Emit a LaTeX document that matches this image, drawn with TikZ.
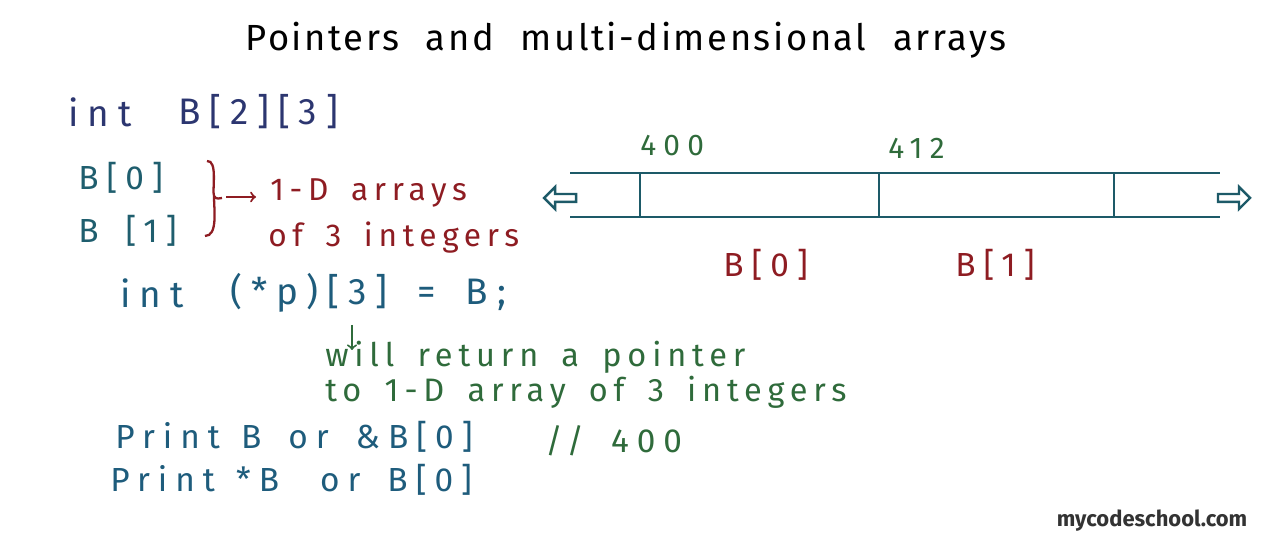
\documentclass[tikz,border=0pt]{standalone}
\usepackage{fontspec}
\setmainfont{Fira Sans}
\newfontfamily\hand[LetterSpace=24,WordSpace=1.6]{Fira Sans}
\newfontfamily\handN[LetterSpace=18,WordSpace=1.6]{Fira Sans}
\newfontfamily\titlefont[LetterSpace=7,WordSpace=2.2]{Fira Sans}
\usetikzlibrary{shapes.arrows}
\definecolor{cNavy}{HTML}{2C3670}
\definecolor{cTeal}{HTML}{1F5E6E}
\definecolor{cBlue}{HTML}{1E5C7C}
\definecolor{cRed}{HTML}{8E1C22}
\definecolor{cGreen}{HTML}{2F6B3B}
\definecolor{cLine}{HTML}{1D5A68}
\begin{document}
\begin{tikzpicture}[x=0.02cm,y=-0.02cm,
  txt/.style={inner sep=0pt, anchor=west, font=\hand\fontsize{19}{21}\selectfont},
  narrow/.style={txt, font=\handN\fontsize{18.5}{21}\selectfont},
  big/.style={txt, font=\hand\fontsize{21}{23}\selectfont},
  arr/.style={line width=1.6pt, color=cLine},
  hollow/.style={single arrow, draw=cLine, line width=1.4pt, fill=white,
    minimum height=32*0.02cm, minimum width=22*0.02cm, single arrow head extend=3pt,
    inner sep=1pt}]
\useasboundingbox[fill=white] (0,0) rectangle (1280,546);
% title
\node[inner sep=0pt, anchor=center, font=\titlefont\fontsize{20.7}{22}\selectfont, text=black] (title) at (626,40) {Pointers and multi-dimensional arrays};
% left column
\node[big, text=cNavy] (declInt) at (68,112) {int};
\node[big, text=cNavy] (declB) at (178,112) {B[2][3]};
\node[txt, text=cTeal] (b0) at (78,178) {B[0]};
\node[txt, text=cTeal] (b1) at (78,231) {B [1]};
\draw[cRed, line width=1.3pt] (207,161) .. controls (218,160) and (212,190) .. (214,196)
  .. controls (216,200) and (220,198) .. (222,198)
  (214,196) .. controls (214,210) and (218,236) .. (205,236);
\node[narrow, text=cRed, font=\handN\fontsize{18}{20}\selectfont] (oneD) at (270,193) {1-D arrays};
\node[narrow, text=cRed, font=\handN\fontsize{18}{20}\selectfont] (of3) at (268,238) {of 3 integers};
\draw[cRed, line width=1.2pt, ->] (226,197) -- (256,197);
\node[big, text=cBlue] (ptrInt) at (120,293) {int};
\node[big, text=cBlue] (ptr) at (230,293) {(*p)[3] = B;};
\node[narrow, text=cGreen] (will) at (325,357) {will return a pointer};
\node[narrow, text=cGreen] (to) at (325,392) {to 1-D array of 3 integers};
\draw[cGreen, line width=1.1pt, ->] (ptr.south -| 352,0) ++(0,12) -- (352,350);
\node[txt, text=cBlue] (pr1) at (115,437) {Print\hspace{12pt}B or \&B[0]};
\node[txt, text=cGreen] (c400) at (545,441) {// 400};
\node[txt, text=cBlue] (pr2) at (110,480) {Print\hspace{12pt}*B\hspace{8pt} or B[0]};
% array
\coordinate (tl) at (570,173); \coordinate (tr) at (1220,173);
\coordinate (bl) at (570,217); \coordinate (br) at (1220,217);
\draw[arr] (tl) -- (tr);
\draw[arr] (bl) -- (br);
\coordinate (v1t) at (640,173); \coordinate (v1b) at (640,217);
\coordinate (v2t) at (879,173); \coordinate (v2b) at (879,217);
\coordinate (v3t) at (1114,173); \coordinate (v3b) at (1114,217);
\draw[arr, line width=1.3pt] (v1t) -- (v1b);
\draw[arr, line width=1.3pt] (v2t) -- (v2b);
\draw[arr, line width=1.3pt] (v3t) -- (v3b);
\node[hollow, shape border rotate=180] (la) at (562,198) {};
\node[hollow] (ra) at (1232,198) {};
\node[txt, text=cGreen, font=\hand\fontsize{17}{19}\selectfont] (a400) at (640,146) {400};
\node[txt, text=cGreen, font=\hand\fontsize{17}{19}\selectfont] (a412) at (888,148) {412};
\node[txt, text=cRed] (lb0) at (723,265) {B[0]};
\node[txt, text=cRed] (lb1) at (955,265) {B[1]};
% watermark
\node[inner sep=0pt, anchor=center, font=\bfseries\fontsize{12.5}{14}\selectfont, text=black!80] (wm) at (1152,521) {mycodeschool.com};
\end{tikzpicture}
\end{document}
